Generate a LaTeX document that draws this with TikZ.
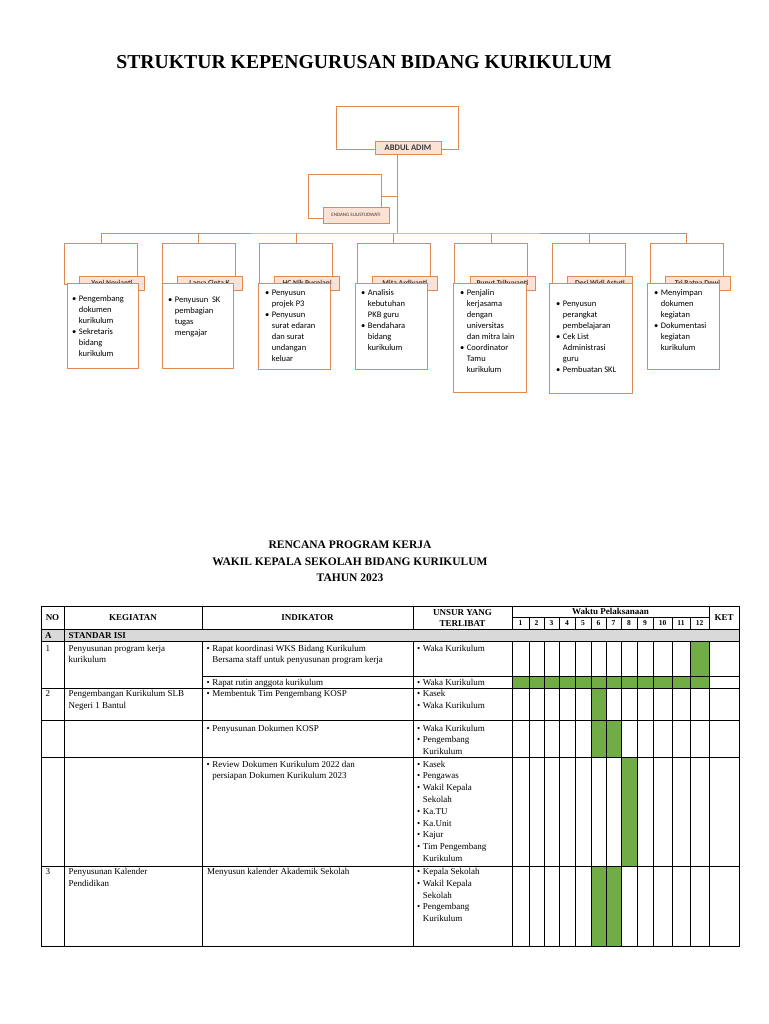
\documentclass[tikz,border=0pt]{standalone}
\usepackage{fontspec}
\setmainfont{Liberation Serif}
\newfontfamily\calfont{Carlito}
\usepackage{tikz}
\usetikzlibrary{positioning}
\definecolor{orgline}{HTML}{E08A52}
\definecolor{lblfill}{HTML}{FBE2D5}
\definecolor{lbltext}{HTML}{3A3A3A}
\definecolor{ganttgreen}{HTML}{70AD47}
\definecolor{rowgray}{HTML}{D9D9D9}

\newcommand{\blist}[1]{\begin{tabular}[t]{@{}l@{\hspace{2.5pt}}l@{}}#1\end{tabular}}
\newcommand{\lines}[1]{\begin{tabular}[t]{@{}l@{}}#1\end{tabular}}

\tikzset{
  orgbox/.style={draw=orgline, line width=0.9pt, minimum width=73pt, minimum height=41pt, inner sep=0pt},
  namelbl/.style={draw=orgline, fill=lblfill, line width=0.8pt, minimum width=65pt, minimum height=14pt,
    inner sep=1pt, text=lbltext, font=\calfont\bfseries\fontsize{7.5}{9}\selectfont},
  dutybox/.style={draw=orgline, fill=white, line width=0.9pt, inner sep=0pt, anchor=north west},
  dutytext/.style={anchor=base west, inner sep=0pt, font=\calfont\fontsize{8.5}{11}\selectfont},
  conn/.style={draw=orgline, line width=0.9pt},
  grid/.style={line width=0.75pt},
  cell/.style={anchor=base west, inner sep=0pt, font=\fontsize{9}{11.8}\selectfont},
  headcell/.style={inner sep=0pt, align=center, font=\bfseries\fontsize{9}{11.5}\selectfont},
  judul/.style={inner sep=0pt, font=\bfseries\fontsize{11.5}{13}\selectfont}
}

\begin{document}
\begin{tikzpicture}[x=1pt, y=-1pt]
\useasboundingbox (0,0) rectangle (768,1024);
\fill[white] (0,0) rectangle (768,1024);

% judul bagan
\node[inner sep=0pt, font=\bfseries\fontsize{19.7}{22}\selectfont] (judul) at (364,62) {STRUKTUR KEPENGURUSAN BIDANG KURIKULUM};

% kepala dan wakil
\node[orgbox, minimum width=122pt, minimum height=43pt] (kepala) at (397,127.5) {};
\coordinate (bus) at (397,233);
\draw[conn] (kepala.south) -- (bus);
\node[namelbl, minimum width=66pt, minimum height=13pt, font=\calfont\bfseries\fontsize{8.5}{10}\selectfont] (adim) at (408,147.5) {ABDUL ADIM};
\node[orgbox, minimum width=73pt, minimum height=44pt] (wbox) at (344.5,196) {};
\draw[conn] (wbox.east) -- (wbox.east -| kepala.south);
\node[namelbl, minimum width=66pt, minimum height=16pt, font=\calfont\fontsize{5}{6}\selectfont] (endang) at (356,215) {ENDANG SULISTIJOWATI};

% anggota
\foreach \i/\cx/\nama in {1/101/Yeni Novianti, 2/198.6/Lasya Cinta K, 3/296.2/HC Nik Puspiani,
    4/393.8/Mita Ardiyanti, 5/491.4/Puput Tribuyanti, 6/589/Desi Widi Astuti, 7/686.6/Tri Ratna Dewi} {
  \node[orgbox] (b\i) at (\cx,263.5) {};
  \node[namelbl] (n\i) at (\cx+11,283) {\nama};
}
\draw[conn] (b1.north) |- (bus) -| (b7.north);
\foreach \i in {2,...,6}
  \draw[conn] (b\i.north) -- (b\i.north |- bus);

\foreach \i/\lx/\w/\h in {1/67/71/85, 2/162/71/85, 3/258/72/86, 4/355/72/86, 5/453/73/109, 6/549/83/110, 7/647/72/86}
  \node[dutybox, minimum width=\w pt, minimum height=\h pt] (t\i) at (\lx,283) {};

\node[dutytext] (d1) at (72,301) {\blist{\textbullet & Pengembang\\ & dokumen\\ & kurikulum\\ \textbullet & Sekretaris\\ & bidang\\ & kurikulum}};
\node[dutytext] (d2) at (168,302) {\blist{\textbullet & Penyusun\ \ SK\\ & pembagian\\ & tugas\\ & mengajar}};
\node[dutytext] (d3) at (265,295) {\blist{\textbullet & Penyusun\\ & projek P3\\ \textbullet & Penyusun\\ & surat edaran\\ & dan surat\\ & undangan\\ & keluar}};
\node[dutytext] (d4) at (361,295) {\blist{\textbullet & Analisis\\ & kebutuhan\\ & PKB guru\\ \textbullet & Bendahara\\ & bidang\\ & kurikulum}};
\node[dutytext] (d5) at (460,295) {\blist{\textbullet & Penjalin\\ & kerjasama\\ & dengan\\ & universitas\\ & dan mitra lain\\ \textbullet & Coordinator\\ & Tamu\\ & kurikulum}};
\node[dutytext] (d6) at (556,306) {\blist{\textbullet & Penyusun\\ & perangkat\\ & pembelajaran\\ \textbullet & Cek List\\ & Administrasi\\ & guru\\ \textbullet & Pembuatan SKL}};
\node[dutytext] (d7) at (654,295) {\blist{\textbullet & Menyimpan\\ & dokumen\\ & kegiatan\\ \textbullet & Dokumentasi\\ & kegiatan\\ & kurikulum}};

% judul tabel
\node[judul] (rencana) at (350,545) {RENCANA PROGRAM KERJA};
\node[judul] (wakil) at (350,562) {WAKIL KEPALA SEKOLAH BIDANG KURIKULUM};
\node[judul] (tahun) at (350,578) {TAHUN 2023};

% isi warna
\fill[rowgray] (41,629) rectangle (739,641);
\fill[ganttgreen] (690,641) rectangle (709,676);
\fill[ganttgreen] (512,676) rectangle (709,688);
\fill[ganttgreen] (591,688) rectangle (606,720);
\fill[ganttgreen] (591,720) rectangle (621,757);
\fill[ganttgreen] (621,757) rectangle (637,866);
\fill[ganttgreen] (591,866) rectangle (621,946);

% garis tabel
\draw[grid] (41,606) rectangle (739,946);
\draw[grid] (512,617) -- (709,617);
\foreach \ry in {629,641,688,720,757,866}
  \draw[grid] (41,\ry) -- (739,\ry);
\draw[grid] (202,676) -- (739,676);
\draw[grid] (64,606) -- (64,946);
\foreach \cx in {202,413,512,709} {
  \draw[grid] (\cx,606) -- (\cx,629);
  \draw[grid] (\cx,641) -- (\cx,946);
}
\foreach \mx in {529,544,559,575,591,606,621,637,653,672,690} {
  \draw[grid] (\mx,617) -- (\mx,629);
  \draw[grid] (\mx,641) -- (\mx,946);
}

% kepala tabel
\node[headcell] (hNo) at (52.5,617.5) {NO};
\node[headcell] (hKeg) at (133,617.5) {KEGIATAN};
\node[headcell] (hInd) at (307.5,617.5) {INDIKATOR};
\node[headcell] (hUns) at (462.5,618) {UNSUR YANG\\TERLIBAT};
\node[headcell] (hWaktu) at (610.5,611.5) {Waktu Pelaksanaan};
\node[headcell] (hKet) at (724,617.5) {KET};
\foreach \n/\mx in {1/520.5,2/536.5,3/551.5,4/567,5/583,6/598.5,7/613.5,8/629,9/645,10/662.5,11/681,12/699.5}
  \node[headcell, font=\bfseries\fontsize{7.5}{9}\selectfont] (m\n) at (\mx,623.5) {\n};

% baris A
\node[cell, font=\bfseries\fontsize{9}{11.8}\selectfont] (rA) at (45,638.5) {A};
\node[cell, font=\bfseries\fontsize{9}{11.8}\selectfont] (rAnama) at (68.5,638.5) {STANDAR ISI};

% baris 1
\node[cell] (r1no) at (45.5,651) {1};
\node[cell] (r1keg) at (68.5,651) {\lines{Penyusunan program kerja\\kurikulum}};
\node[cell] (r1ind) at (206.5,651) {\blist{\textbullet & Rapat koordinasi WKS Bidang Kurikulum\\ & Bersama staff untuk penyusunan program kerja}};
\node[cell] (r1uns) at (417,651) {\blist{\textbullet & Waka Kurikulum}};
\node[cell] (r1ind2) at (206.5,685) {\blist{\textbullet & Rapat rutin anggota kurikulum}};
\node[cell] (r1uns2) at (417,685) {\blist{\textbullet & Waka Kurikulum}};

% baris 2
\node[cell] (r2no) at (45.5,696.5) {2};
\node[cell] (r2keg) at (68.5,696.5) {\lines{Pengembangan Kurikulum SLB\\Negeri 1 Bantul}};
\node[cell] (r2ind) at (206.5,696.5) {\blist{\textbullet & Membentuk Tim Pengembang KOSP}};
\node[cell] (r2uns) at (417,696.5) {\blist{\textbullet & Kasek\\ \textbullet & Waka Kurikulum}};
\node[cell] (r2ind2) at (206.5,731) {\blist{\textbullet & Penyusunan Dokumen KOSP}};
\node[cell] (r2uns2) at (417,731) {\blist{\textbullet & Waka Kurikulum\\ \textbullet & Pengembang\\ & Kurikulum}};
\node[cell] (r2ind3) at (206.5,767) {\blist{\textbullet & Review Dokumen Kurikulum 2022 dan\\ & persiapan Dokumen Kurikulum 2023}};
\node[cell] (r2uns3) at (417,767) {\blist{\textbullet & Kasek\\ \textbullet & Pengawas\\ \textbullet & Wakil Kepala\\ & Sekolah\\ \textbullet & Ka.TU\\ \textbullet & Ka.Unit\\ \textbullet & Kajur\\ \textbullet & Tim Pengembang\\ & Kurikulum}};

% baris 3
\node[cell] (r3no) at (45.5,874.5) {3};
\node[cell] (r3keg) at (68.5,874.5) {\lines{Penyusunan Kalender\\Pendidikan}};
\node[cell] (r3ind) at (207,874.5) {Menyusun kalender Akademik Sekolah};
\node[cell] (r3uns) at (417,874.5) {\blist{\textbullet & Kepala Sekolah\\ \textbullet & Wakil Kepala\\ & Sekolah\\ \textbullet & Pengembang\\ & Kurikulum}};
\end{tikzpicture}
\end{document}
